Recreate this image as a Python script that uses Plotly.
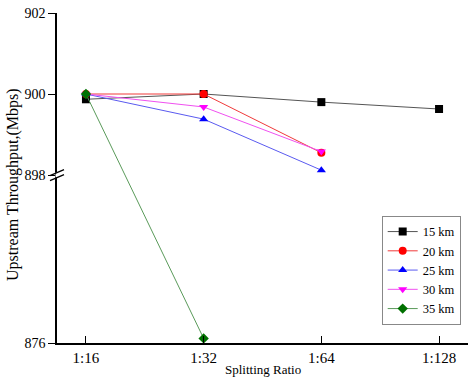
import plotly.graph_objects as go

# ---- data ----
ratios = ["1:16", "1:32", "1:64", "1:128"]
series_names = ["15 km", "20 km", "25 km", "30 km", "35 km"]
t15 = [899.87, 900.0, 899.80, 899.63]
t20 = [900.0, 900.0, 898.55, None]
t25 = [900.0, 899.38, 898.12, None]
t30 = [900.0, 899.68, 898.58, None]
t35 = [900.0, 876.6, None, None]
upper_ticks = [898, 900, 902]
lower_ticks = [876]

# ---- style ----
W, H = 474, 379
ML, MR, MT, MB = 57, 6, 13, 36
PW, PH = W - ML - MR, H - MT - MB
BREAK = 898
upper_range = [898, 902]
lower_range = [876, 898]
split = 0.509  # fraction of plot height for lower panel
FONT = "Liberation Serif"

line_colors = ["#555555", "#f03a3a", "#5a5af0", "#f050f0", "#5a9a5a"]
marker_colors = ["#000000", "#ff0000", "#0000ff", "#ff00ff", "#007000"]
symbols = ["square", "circle", "triangle-up", "triangle-down", "diamond"]
all_series = [t15, t20, t25, t30, t35]

xpos = list(range(len(ratios)))

upx = (1 - split) * PH / (upper_range[1] - upper_range[0])
lpx = split * PH / (lower_range[1] - lower_range[0])

fig = go.Figure()

for i, (name, vals) in enumerate(zip(series_names, all_series)):
    ux, uy, lx, ly = [], [], [], []
    pts = [(x, v) for x, v in zip(xpos, vals) if v is not None]
    mux = [x for x, v in pts if v >= BREAK]
    muy = [v for x, v in pts if v >= BREAK]
    mlx = [x for x, v in pts if v < BREAK]
    mly = [v for x, v in pts if v < BREAK]
    for (x0, v0), (x1, v1) in zip(pts[:-1], pts[1:]):
        if v0 >= BREAK and v1 >= BREAK:
            ux += [x0, x1, None]; uy += [v0, v1, None]
        elif v0 < BREAK and v1 < BREAK:
            lx += [x0, x1, None]; ly += [v0, v1, None]
        else:
            hi, lo = (v0, v1) if v0 >= BREAK else (v1, v0)
            dpu = (hi - BREAK) * upx
            dpl = (BREAK - lo) * lpx
            frac = dpu / (dpu + dpl) if v0 >= BREAK else dpl / (dpu + dpl)
            xc = x0 + (x1 - x0) * frac
            if v0 >= BREAK:
                ux += [x0, xc, None]; uy += [v0, BREAK, None]
                lx += [xc, x1, None]; ly += [BREAK, v1, None]
            else:
                lx += [x0, xc, None]; ly += [v0, BREAK, None]
                ux += [xc, x1, None]; uy += [BREAK, v1, None]
    lc = line_colors[i]
    mc = marker_colors[i]
    fig.add_trace(go.Scatter(x=[None], y=[None], mode="lines+markers", name=name,
                             line=dict(color=lc, width=1),
                             marker=dict(symbol=symbols[i], color=mc, size=8),
                             xaxis="x", yaxis="y2", showlegend=True))
    if ux:
        fig.add_trace(go.Scatter(x=ux, y=uy, mode="lines", line=dict(color=lc, width=1),
                                 xaxis="x", yaxis="y2", showlegend=False, hoverinfo="skip"))
    if lx:
        fig.add_trace(go.Scatter(x=lx, y=ly, mode="lines", line=dict(color=lc, width=1),
                                 xaxis="x", yaxis="y", showlegend=False, hoverinfo="skip"))
    if mux:
        fig.add_trace(go.Scatter(x=mux, y=muy, mode="markers", name=name,
                                 marker=dict(symbol=symbols[i], color=mc, size=8),
                                 xaxis="x", yaxis="y2", showlegend=False, cliponaxis=False))
    if mlx:
        fig.add_trace(go.Scatter(x=mlx, y=mly, mode="markers", name=name,
                                 marker=dict(symbol=symbols[i], color=mc, size=8),
                                 xaxis="x", yaxis="y", showlegend=False, cliponaxis=False))

axis_common = dict(showgrid=False, zeroline=False, showline=True, linecolor="black",
                   linewidth=1.5, ticks="outside", ticklen=7, tickwidth=1, tickcolor="black",
                   tickfont=dict(family=FONT, size=14, color="black"))

fig.update_layout(
    width=W, height=H,
    margin=dict(l=ML, r=MR, t=MT, b=MB),
    paper_bgcolor="white", plot_bgcolor="white",
    font=dict(family=FONT, size=14, color="black"),
    xaxis=dict(range=[-0.246, 3.246], tickvals=xpos, ticktext=ratios,
               showgrid=False, zeroline=False, showline=True, linecolor="black",
               linewidth=1.5, ticks="inside", ticklen=7, tickwidth=1, tickcolor="black",
               tickfont=dict(family=FONT, size=15, color="black"), anchor="y"),
    yaxis=dict(domain=[0, split], range=lower_range, tickvals=lower_ticks, anchor="x",
               **axis_common),
    yaxis2=dict(domain=[split, 1], range=upper_range, tickvals=upper_ticks, anchor="x",
                **axis_common),
    legend=dict(x=0.79, y=0.385, xanchor="left", yanchor="top",
                bordercolor="#888888", borderwidth=1, bgcolor="white",
                font=dict(family=FONT, size=12.5, color="black"),
                tracegroupgap=0, itemwidth=30),
    showlegend=True,
)

fig.add_annotation(text="Upstream Throughput,(Mbps)", xref="paper", yref="paper",
                   x=-44 / PW, y=0.479, xanchor="center", yanchor="middle",
                   textangle=-90, showarrow=False, font=dict(family=FONT, size=16))
fig.add_annotation(text="Splitting Ratio", xref="paper", yref="paper",
                   x=0.5, y=-26 / PH, xanchor="center", yanchor="middle",
                   showarrow=False, font=dict(family=FONT, size=13))

def px2p(dx, dy):
    return dx / PW, split + dy / PH

x0, y0 = px2p(-1.5, -2.5)
x1, y1 = px2p(1.5, 2.5)
fig.add_shape(type="rect", xref="paper", yref="paper", x0=x0, y0=y0, x1=x1, y1=y1,
              fillcolor="white", line=dict(width=0), layer="above")
for off in (-2.5, 2.5):
    a = px2p(-7, off - 3)
    b = px2p(7, off + 3)
    fig.add_shape(type="line", xref="paper", yref="paper", x0=a[0], y0=a[1], x1=b[0], y1=b[1],
                  line=dict(color="black", width=1.3), layer="above")

fig.write_html("out.html", config={"displayModeBar": False},
               post_script="document.body.style.margin='0';")
